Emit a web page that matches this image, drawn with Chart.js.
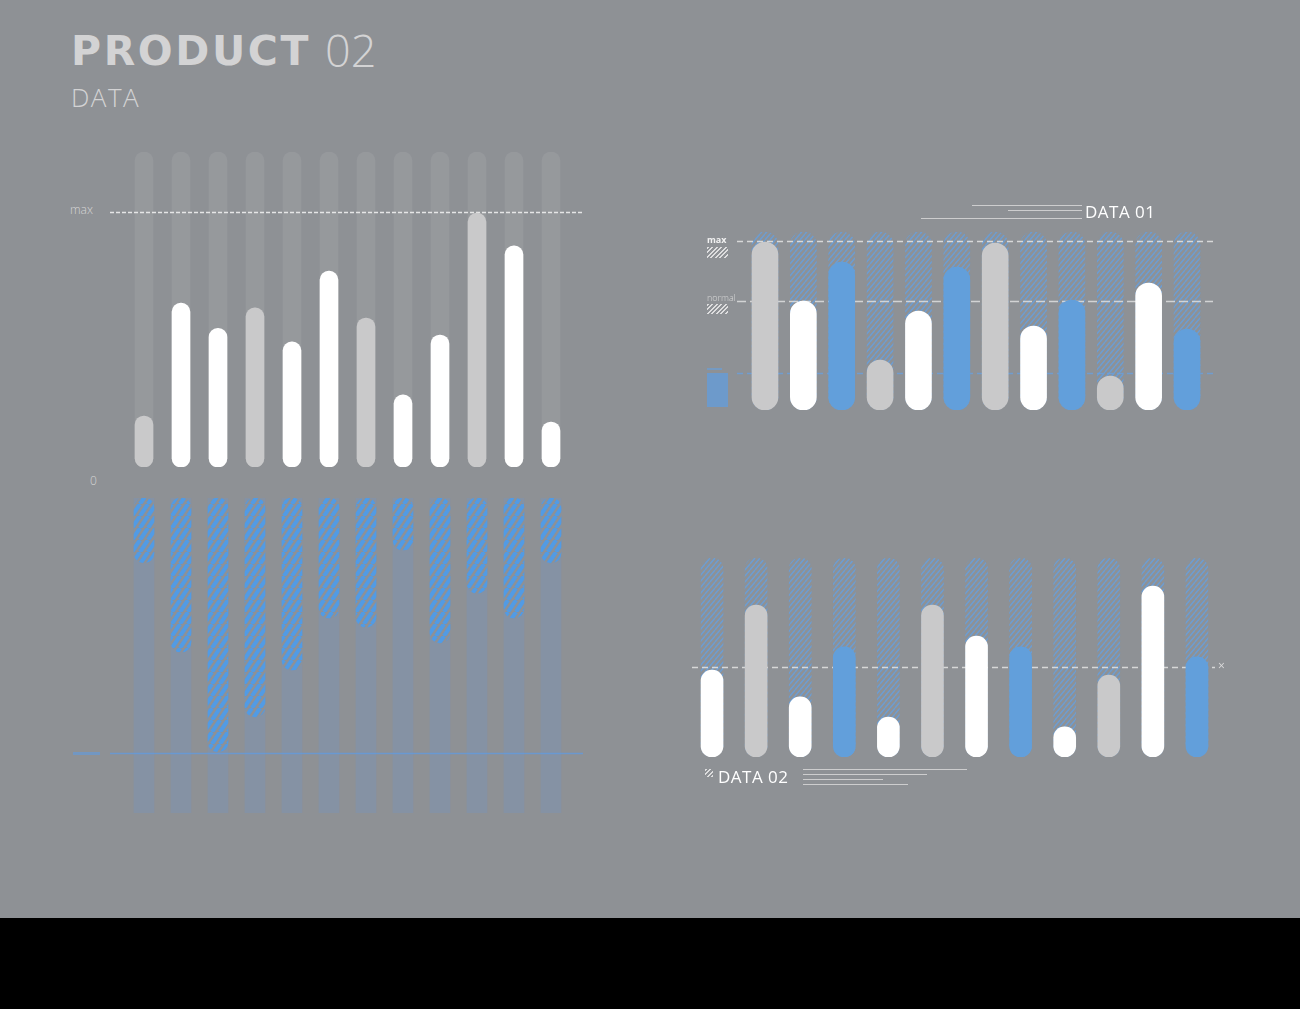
<!DOCTYPE html>
<html>
<head>
<meta charset="utf-8">
<script src="https://cdn.jsdelivr.net/npm/chart.js@4.4.1/dist/chart.umd.min.js"></script>
<style>
  html,body{margin:0;padding:0;}
  body{width:1300px;height:1009px;background:#8e9195;position:relative;overflow:hidden;font-family:"Open Sans",sans-serif;}
  canvas{position:absolute;}
  .t{position:absolute;white-space:nowrap;line-height:1;}
  .ln{position:absolute;height:1px;background:rgba(225,225,225,0.75);}
  .hs{position:absolute;background:repeating-linear-gradient(135deg,rgba(230,230,230,0.9) 0 1.5px,transparent 1.5px 3.2px);}
  #footer{position:absolute;left:0;top:918px;width:1300px;height:91px;background:#000;}
</style>
</head>
<body>
<div class="t" style="left:71px;top:31px;font-family:'DejaVu Sans',sans-serif;font-weight:bold;font-size:41px;letter-spacing:2.6px;color:#d3d3d4;">PRODUCT</div>
<div class="t" style="left:325px;top:27px;font-family:'Open Sans',sans-serif;font-weight:300;font-size:45px;color:#d3d3d4;">02</div>
<div class="t" style="left:71px;top:84px;font-family:'Open Sans',sans-serif;font-weight:300;font-size:26px;letter-spacing:1.5px;color:#d3d3d4;">DATA</div>

<div class="t" style="left:70px;top:204px;font-size:12px;font-weight:300;color:#d6d6d6;">max</div>
<div class="t" style="left:90px;top:475px;font-size:12px;font-weight:300;color:#d6d6d6;">0</div>

<canvas id="c1" width="540" height="350" style="left:60px;top:140px;"></canvas>
<canvas id="c2" width="540" height="350" style="left:60px;top:480px;"></canvas>
<canvas id="c3" width="540" height="240" style="left:690px;top:180px;"></canvas>
<canvas id="c4" width="560" height="260" style="left:680px;top:540px;"></canvas>

<!-- DATA 01 header -->
<div class="ln" style="left:972px;top:205px;width:110px;"></div>
<div class="ln" style="left:1008px;top:210px;width:74px;"></div>
<div class="ln" style="left:921px;top:218px;width:161px;"></div>
<div class="t" style="left:1085px;top:203px;font-size:17px;letter-spacing:0.5px;color:#ffffff;">DATA 01</div>

<!-- DATA 01 legend -->
<div class="t" style="left:707px;top:235px;font-size:9px;font-weight:bold;color:#f2f2f2;">max</div>
<div class="hs" style="left:707px;top:247px;width:21px;height:11px;"></div>
<div class="t" style="left:707px;top:293px;font-size:9px;font-weight:300;color:#d8d8d8;">normal</div>
<div class="hs" style="left:707px;top:304px;width:21px;height:10px;"></div>
<div style="position:absolute;left:707px;top:368px;width:15px;height:2px;background:rgba(100,160,225,0.6);"></div>
<div style="position:absolute;left:707px;top:373px;width:21px;height:34px;background:rgba(98,158,222,0.75);"></div>

<!-- DATA 02 footer -->
<div class="hs" style="left:705px;top:769px;width:8px;height:8px;"></div>
<div class="t" style="left:718px;top:768px;font-size:17px;letter-spacing:0.5px;color:#ffffff;">DATA 02</div>
<div class="ln" style="left:803px;top:769px;width:164px;"></div>
<div class="ln" style="left:803px;top:774px;width:124px;"></div>
<div class="ln" style="left:803px;top:779px;width:80px;"></div>
<div class="ln" style="left:803px;top:784px;width:105px;"></div>

<div id="footer"></div>

<script>
// ---------------- DATA ----------------
const categories = ['01','02','03','04','05','06','07','08','09','10','11','12'];
const trackMax = 100;

// top-left chart (PRODUCT 02)
const productValues = [16.2, 52, 44, 50.5, 39.7, 62.2, 47.3, 22.9, 41.9, 80.6, 70.2, 14.3];
const productMax = 81;

// bottom-left mirrored hatched chart
const mirrorValues = [20.6, 48.9, 80.6, 69.5, 54.6, 38.1, 41, 16.5, 46, 30.2, 38.1, 20.6];
const mirrorBase = 81;

// DATA 01
const data01Values = [94.4, 61.2, 83.1, 28.1, 55.6, 80.3, 93.8, 47.2, 61.8, 19.1, 71.3, 45.5];
const data01Max = 94.9;
const data01Normal = 61.2;
const data01Low = 20.8;

// DATA 02
const data02Values = [43.7, 76.4, 30.2, 55.3, 20.1, 76.4, 60.8, 55.3, 15.1, 41.2, 85.9, 50.3];
const data02Line = 45.2;

// ---------------- STYLE ----------------
const WHITE = '#ffffff', GRAY = '#c9c9ca', BLUE = '#629fdb';
const productColors = [GRAY, WHITE, WHITE, GRAY, WHITE, WHITE, GRAY, WHITE, WHITE, GRAY, WHITE, WHITE];
const data01Colors = [GRAY, WHITE, BLUE, GRAY, WHITE, BLUE, GRAY, WHITE, BLUE, GRAY, WHITE, BLUE];
const data02Colors = [WHITE, GRAY, WHITE, BLUE, WHITE, GRAY, WHITE, BLUE, WHITE, GRAY, WHITE, BLUE];

function hatch(color, w, h, lw, bg) {
  const c = document.createElement('canvas');
  c.width = w; c.height = h;
  const x = c.getContext('2d');
  if (bg) { x.fillStyle = bg; x.fillRect(0, 0, w, h); }
  x.strokeStyle = color; x.lineWidth = lw;
  x.beginPath();
  for (let k = -1; k <= 1; k++) {
    x.moveTo(k * w, h); x.lineTo(k * w + w, 0);
  }
  x.stroke();
  return x.createPattern(c, 'repeat');
}

const tracks = categories.map(() => trackMax);

function hLine(chart, value, x0, x1, color, width, dash) {
  const ctx = chart.ctx;
  const y = Math.round(chart.scales.y.getPixelForValue(value)) + 0.5;
  ctx.save();
  ctx.strokeStyle = color; ctx.lineWidth = width; ctx.setLineDash(dash || []);
  ctx.beginPath(); ctx.moveTo(x0, y); ctx.lineTo(x1, y); ctx.stroke();
  ctx.restore();
}

function makeChart(id, cfg) {
  const plugin = {
    id: 'lines_' + id,
    afterDatasetDraw(chart, args) {
      if (args.index === 0 && cfg.lines) cfg.lines(chart);
    },
    afterDatasetsDraw(chart) {
      if (cfg.overLines) cfg.overLines(chart);
    }
  };
  return new Chart(document.getElementById(id), {
    type: 'bar',
    data: {
      labels: categories,
      datasets: [
        {
          data: tracks,
          backgroundColor: cfg.trackColor,
          barThickness: cfg.width,
          borderRadius: cfg.trackRadius,
          borderSkipped: false,
          grouped: false,
          order: 2
        },
        {
          data: cfg.values,
          backgroundColor: cfg.colors,
          barThickness: cfg.width,
          borderRadius: cfg.width / 2,
          borderSkipped: false,
          grouped: false,
          order: 1
        }
      ]
    },
    options: {
      responsive: false,
      animation: false,
      devicePixelRatio: 1,
      layout: { padding: cfg.padding },
      plugins: { legend: { display: false }, tooltip: { enabled: false } },
      scales: {
        x: { display: false },
        y: { display: false, min: 0, max: trackMax, reverse: !!cfg.reverse }
      }
    },
    plugins: [plugin]
  });
}

// Chart 1: PRODUCT 02
makeChart('c1', {
  values: productValues,
  colors: productColors,
  width: 18,
  trackColor: 'rgba(255,255,255,0.075)',
  trackRadius: 9,
  padding: { left: 65.5, right: 30.5, top: 12, bottom: 23 },
  lines: (ch) => hLine(ch, productMax, 50, 523, 'rgba(238,238,238,0.9)', 1.5, [4, 2])
});

// Chart 2: mirrored hatched
makeChart('c2', {
  values: mirrorValues,
  colors: hatch('rgba(78,155,232,0.95)', 8, 12, 4.2, 'rgba(142,145,150,0.9)'),
  width: 20,
  trackColor: 'rgba(100,150,225,0.2)',
  trackRadius: 0,
  reverse: true,
  padding: { left: 65.5, right: 30.5, top: 18, bottom: 17 },
  overLines: (ch) => {
    hLine(ch, mirrorBase, 50, 523, 'rgba(95,155,225,0.75)', 1.5, []);
    hLine(ch, mirrorBase, 13, 40, 'rgba(95,155,225,0.6)', 3, []);
  }
});

// Chart 3: DATA 01
makeChart('c3', {
  values: data01Values,
  colors: data01Colors,
  width: 26,
  trackColor: hatch('rgba(95,162,235,0.7)', 5, 6, 1.5),
  trackRadius: 13,
  padding: { left: 55.8, right: 23.8, top: 52, bottom: 10 },
  lines: (ch) => {
    hLine(ch, data01Max, 47, 523, 'rgba(228,228,228,0.85)', 1.5, [6, 4]);
    hLine(ch, data01Normal, 47, 523, 'rgba(228,228,228,0.8)', 1.5, [9, 4]);
    hLine(ch, data01Low, 47, 523, 'rgba(100,162,232,0.7)', 1.5, [6, 4]);
  }
});

// Chart 4: DATA 02
makeChart('c4', {
  values: data02Values,
  colors: data02Colors,
  width: 22,
  trackColor: hatch('rgba(95,162,235,0.7)', 5, 6, 1.5),
  trackRadius: 11,
  padding: { left: 10, right: 21, top: 18, bottom: 43 },
  lines: (ch) => {
    hLine(ch, data02Line, 12, 535, 'rgba(228,228,228,0.85)', 1.5, [6, 4]);
    const ctx = ch.ctx;
    const y = ch.scales.y.getPixelForValue(data02Line);
    ctx.save();
    ctx.fillStyle = 'rgba(228,228,228,0.9)';
    ctx.font = '12px "Open Sans"';
    ctx.textBaseline = 'middle';
    ctx.fillText('\u00d7', 538, y);
    ctx.restore();
  }
});
</script>
</body>
</html>
